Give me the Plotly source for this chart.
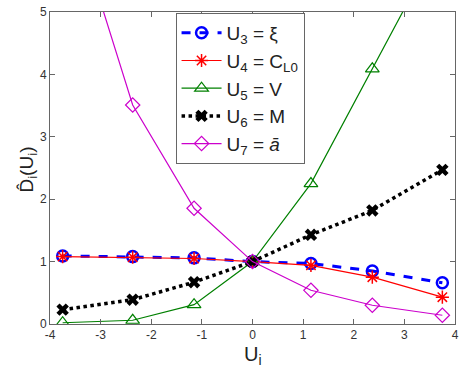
import plotly.graph_objects as go

# Gauss-Hermite nodes (probabilists')
u = [-3.7504, -2.3668, -1.1544, 0.0, 1.1544, 2.3668, 3.7504]

d_u3 = [1.09, 1.08, 1.06, 1.00, 0.97, 0.85, 0.66]
d_u4 = [1.08, 1.07, 1.05, 1.00, 0.94, 0.75, 0.43]
d_u5 = [0.02, 0.06, 0.31, 1.00, 2.25, 4.09, 6.19]
d_u6 = [0.23, 0.39, 0.67, 1.00, 1.43, 1.82, 2.47]
d_u7 = [7.10, 3.51, 1.855, 1.00, 0.54, 0.30, 0.14]

names = ["U<sub>3</sub> = ξ", "U<sub>4</sub> = C<sub>L0</sub>", "U<sub>5</sub> = V",
         "U<sub>6</sub> = M", "U<sub>7</sub> = <i>ā</i>"]

x_ticks = [-4, -3, -2, -1, 0, 1, 2, 3, 4]
x_labels = ["-4", "-3", "-2", "-1", "0", "1", "2", "3", "4"]
y_ticks = [0, 1, 2, 3, 4, 5]
y_labels = ["0", "1", "2", "3", "4", "5"]

fig = go.Figure()
fig.add_trace(go.Scatter(x=u, y=d_u3, name=names[0], mode="lines+markers", legendgroup="a",
                         line=dict(color="#0000ff", width=3, dash="dash"),
                         marker=dict(symbol="circle-open", size=11, color="#0000ff", line=dict(width=2.5))))
fig.add_trace(go.Scatter(x=u, y=d_u4, name=names[1], mode="lines+markers", legendgroup="b",
                         line=dict(color="#ff0000", width=1.2),
                         marker=dict(symbol="asterisk-open", size=11, color="#ff0000", line=dict(width=1.5))))
fig.add_trace(go.Scatter(x=u, y=d_u5, name=names[2], mode="lines+markers", legendgroup="c",
                         line=dict(color="#008000", width=1.2),
                         marker=dict(symbol="triangle-up-open", size=12, color="#008000", line=dict(width=1.2))))
fig.add_trace(go.Scatter(x=u, y=d_u6, name=names[3], mode="lines+markers", legendgroup="d",
                         line=dict(color="#000000", width=3.5, dash="dot"),
                         marker=dict(symbol="x", size=11, color="#000000", line=dict(width=0))))
fig.add_trace(go.Scatter(x=u, y=d_u7, name=names[4], mode="lines+markers", legendgroup="e",
                         line=dict(color="#cc00cc", width=1.2),
                         marker=dict(symbol="diamond-open", size=11, color="#cc00cc", line=dict(width=1.2))))

axis_common = dict(showline=True, mirror="ticks", linecolor="#666666", linewidth=1,
                   ticks="inside", ticklen=5, tickcolor="#666666", showgrid=False, zeroline=False,
                   automargin=False,
                   tickfont=dict(family="Liberation Sans, Arial", size=12, color="#333333"))

fig.update_layout(
    width=474, height=369,
    margin=dict(l=50, r=19, t=12, b=45),
    paper_bgcolor="white", plot_bgcolor="white",
    font=dict(family="Liberation Sans, Arial", color="#222222"),
    xaxis=dict(range=[-4, 4], tickvals=x_ticks, ticktext=x_labels, **axis_common),
    yaxis=dict(range=[0, 5], tickvals=y_ticks, ticktext=y_labels, **axis_common),
    legend=dict(x=0.31, y=0.997, xanchor="left", yanchor="top",
                bgcolor="white", bordercolor="#666666", borderwidth=1,
                font=dict(family="Liberation Sans, Arial", size=19, color="#222222"),
                tracegroupgap=0, itemwidth=40),
    showlegend=True,
    annotations=[
        dict(text="U<sub>i</sub>", xref="paper", yref="paper", x=0.5, y=-0.055,
             xanchor="center", yanchor="top", showarrow=False,
             font=dict(family="Liberation Sans, Arial", size=20, color="#222222")),
        dict(text="D̂<sub>i</sub>(U<sub>i</sub>)", xref="paper", yref="paper", x=-0.055, y=0.494,
             xanchor="center", yanchor="middle", textangle=-90, showarrow=False,
             font=dict(family="Liberation Sans, Arial", size=19, color="#222222")),
    ],
)

fig.write_html("out.html", config={"displayModeBar": False},
               post_script="document.body.style.margin='0px';")
